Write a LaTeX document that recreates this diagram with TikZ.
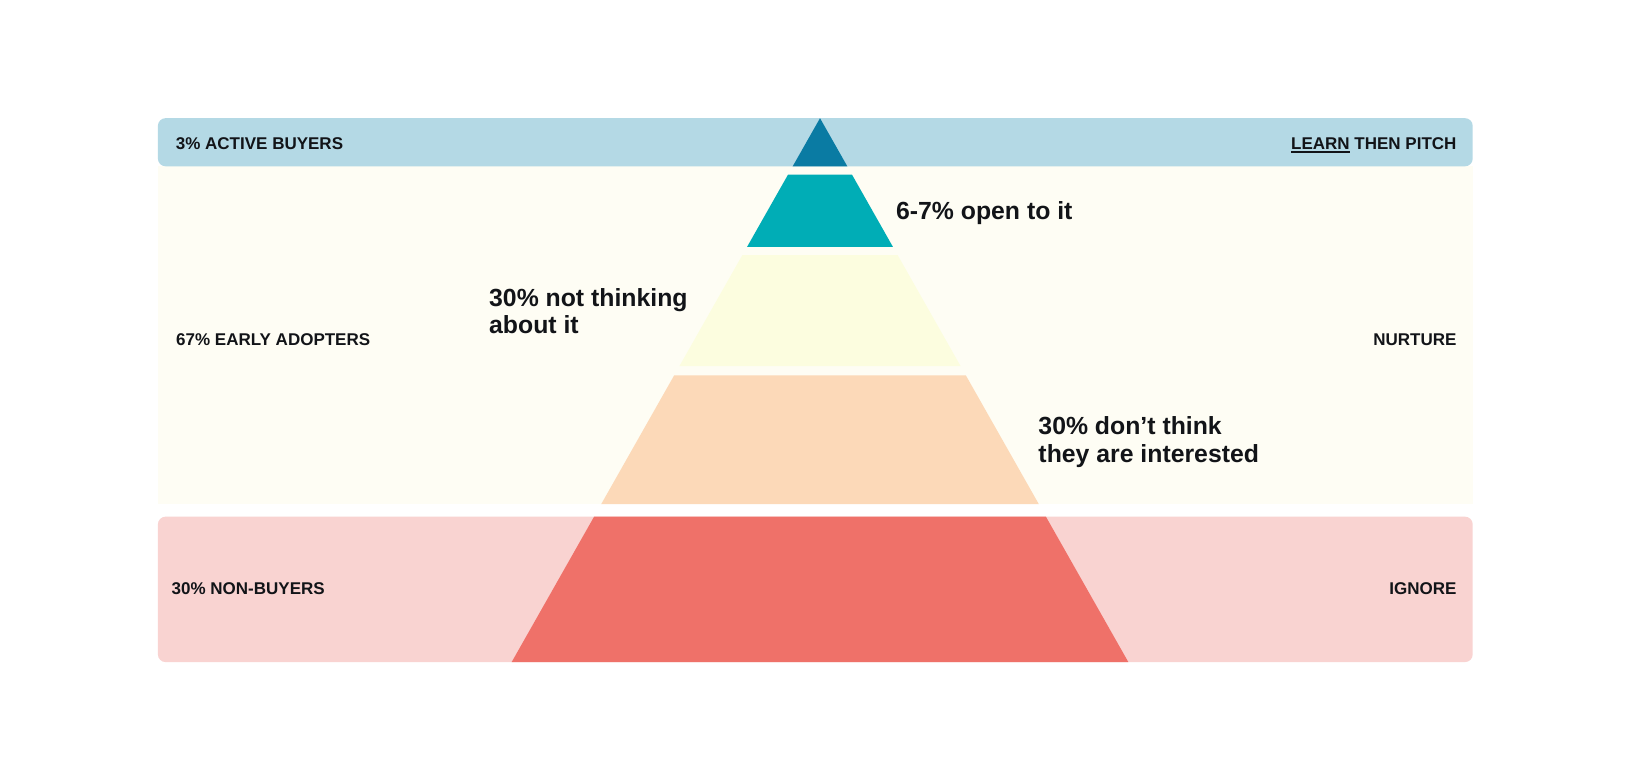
\documentclass[tikz,border=0pt]{standalone}
\usepackage{fontspec}
\setmainfont{Liberation Sans}
\definecolor{bandblue}{HTML}{B4D9E5}
\definecolor{bandcream}{HTML}{FEFDF4}
\definecolor{bandpink}{HTML}{F9D3D1}
\definecolor{pyrdark}{HTML}{0A7BA3}
\definecolor{pyrteal}{HTML}{00ADB6}
\definecolor{pyryellow}{HTML}{FCFDDF}
\definecolor{pyrorange}{HTML}{FCD9B8}
\definecolor{pyrred}{HTML}{EF7169}
\definecolor{ink}{HTML}{121418}
\newcommand\myul[1]{\setbox0\hbox{#1}\rlap{\rule[-4pt]{\wd0}{2pt}}\box0\relax}
\tikzset{
  smalllab/.style={inner sep=0pt, text=ink, font=\fontsize{17}{20}\selectfont\bfseries},
  biglab/.style={inner sep=0pt, text=ink, anchor=base west, font=\fontsize{24.8}{28}\selectfont\bfseries},
}
\begin{document}
\begin{tikzpicture}[x=1.0459pt,y=-1.0459pt]
\useasboundingbox (0,0) rectangle (1568,744.8);
\fill[white] (0,0) rectangle (1568,744.8);
% bands
\fill[bandcream] (151,159) rectangle (1408,482);
\fill[bandblue, rounded corners=7.6pt] (151,113) rectangle (1408,159);
\fill[bandpink, rounded corners=7.6pt] (151,494) rectangle (1408,633);
% pyramid
\fill[pyrdark] (784,113) -- (810.1,159) -- (757.9,159) -- cycle;
\fill[pyrteal] (753.4,167) -- (814.6,167) -- (853.7,236) -- (714.3,236) -- cycle;
\fill[pyryellow] (709.7,244) -- (858.3,244) -- (918.4,350) -- (649.6,350) -- cycle;
\fill[pyrorange] (644.5,359) -- (923.5,359) -- (993.2,482) -- (574.8,482) -- cycle;
\fill[pyrred] (568.0,494) -- (1000.0,494) -- (1078.8,633) -- (489.2,633) -- cycle;
% band labels
\node[smalllab, anchor=base west] (active) at (168,142.6) {3\% ACTIVE BUYERS};
\node[smalllab, anchor=base east] (pitch) at (1392.7,142.6) {\myul{LEARN} THEN PITCH};
\node[smalllab, anchor=base west] (early) at (168.3,330.8) {67\% EARLY ADOPTERS};
\node[smalllab, anchor=base east] (nurture) at (1392.7,330.8) {NURTURE};
\node[smalllab, anchor=base west] (non) at (164,568.8) {30\% NON-BUYERS};
\node[smalllab, anchor=base east] (ignore) at (1392.7,568.8) {IGNORE};
% pyramid labels
\node[biglab] (open) at (856.6,209.4) {6-7\% open to it};
\node[biglab] (notthink1) at (467.5,292.6) {30\% not thinking};
\node[biglab] (notthink2) at (467.5,318.9) {about it};
\node[biglab] (dont1) at (992.7,415.2) {30\% don’t think};
\node[biglab] (dont2) at (992.7,442.0) {they are interested};
\end{tikzpicture}
\end{document}
